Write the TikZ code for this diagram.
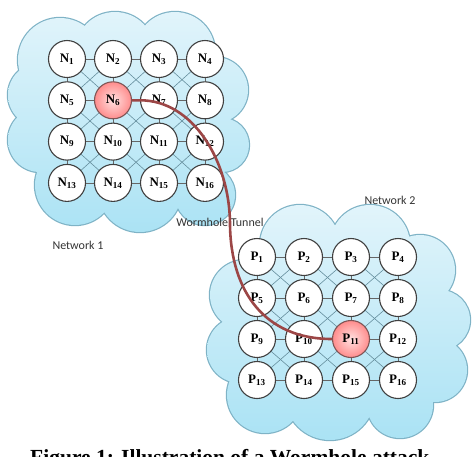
\documentclass[tikz,border=0pt]{standalone}
\usepackage{fontspec}
\setmainfont{Liberation Serif}
\newfontfamily\labelfont{Carlito}

\pgfdeclarelayer{cloudlayer}
\pgfdeclarelayer{linklayer}
\pgfsetlayers{cloudlayer,linklayer,main}

\definecolor{cloudedge}{HTML}{7FB3C6}
\definecolor{cloudtop}{HTML}{E4F5FB}
\definecolor{cloudbottom}{HTML}{A9E2F4}
\definecolor{tunnelred}{HTML}{9C4646}

\tikzset{
  host/.style={circle,draw=black!75,line width=1.1pt,fill=white,minimum size=37pt,inner sep=0pt,
    font=\fontsize{13}{13}\selectfont\bfseries},
  victim/.style={host,draw=tunnelred!60!black!80,inner color=red!12,outer color=red!45},
  link/.style={draw=black!60,line width=0.8pt},
  cross/.style={draw=cloudedge!80!black,line width=0.6pt},
  puff/.style={draw=cloudedge,line width=2.4pt},
  tunnel/.style={draw=tunnelred,line width=2.6pt},
  netname/.style={font=\labelfont\fontsize{12}{12}\selectfont,text=black!80,inner sep=1pt},
}
\def\cloudone{60/60/42,115/52/40,175/52/40,215/90/33,222/145/27,205/195/30,140/190/42,
  75/185/40,40/140/32,40/95/32,125/120/90}
\def\cloudtwo{300/245/40,370/245/40,420/270/35,440/320/30,435/370/32,400/405/33,330/395/45,
  265/395/38,240/350/33,245/295/35,335/320/95}

\begin{document}
\begin{tikzpicture}[x=1pt,y=-1pt]
\useasboundingbox (0,0) rectangle (474,456);

% clouds
\begin{pgfonlayer}{cloudlayer}
\foreach \cx/\cy/\r in \cloudone
  \draw[puff] (\cx,\cy) circle (\r pt);
\begin{scope}
\clip \foreach \cx/\cy/\r in \cloudone {(\cx,\cy) circle (\r pt)};
\shade[top color=cloudtop,bottom color=cloudbottom] (0,0) rectangle (260,240);
\end{scope}
\foreach \cx/\cy/\r in \cloudtwo
  \draw[puff] (\cx,\cy) circle (\r pt);
\begin{scope}
\clip \foreach \cx/\cy/\r in \cloudtwo {(\cx,\cy) circle (\r pt)};
\shade[top color=cloudtop,bottom color=cloudbottom] (200,195) rectangle (474,445);
\end{scope}
\end{pgfonlayer}

% the two grids
\foreach \row in {0,...,3}
  \foreach \col in {0,...,3} {
    \pgfmathtruncatemacro\k{4*\row+\col+1}
    \ifnum\k=6 \def\kind{victim}\else\def\kind{host}\fi
    \node[\kind] (N\k) at ({67+46*\col},{59+41.3*\row}) {N\textsubscript{\k}};
    \ifnum\k=11 \def\kind{victim}\else\def\kind{host}\fi
    \node[\kind] (P\k) at ({257+47*\col},{257+41*\row}) {P\textsubscript{\k}};
  }

\begin{pgfonlayer}{linklayer}
\foreach \net in {N,P}
  \foreach \a in {0,...,3}
    \foreach \b in {1,2,3} {
      \pgfmathtruncatemacro\h{4*\a+\b}
      \pgfmathtruncatemacro\v{4*(\b-1)+\a+1}
      \draw[link] (\net\h.center) -- (\net\the\numexpr\h+1\relax.center);
      \draw[link] (\net\v.center) -- (\net\the\numexpr\v+4\relax.center);
    }
\foreach \net in {N,P}
  \foreach \a in {0,1,2}
    \foreach \b in {1,2,3} {
      \pgfmathtruncatemacro\k{4*\a+\b}
      \draw[cross] (\net\k.center) -- (\net\the\numexpr\k+5\relax.center);
      \draw[cross] (\net\the\numexpr\k+1\relax.center) -- (\net\the\numexpr\k+4\relax.center);
    }
\end{pgfonlayer}

% labels
\node[netname] (net1) at (78,245) {Network 1};
\node[netname] (net2) at (390,200) {Network 2};
\node[netname] (hole) at (220,222) {Wormhole Tunnel};

% wormhole link
\draw[tunnel] (N6.east) -- ++(8,0) .. controls (192,100) and (230,160) .. (230,225)
  .. controls (231,292) and (265,339) .. (P11.west);

\node[anchor=base west,inner sep=0pt,font=\fontsize{21.5}{22}\selectfont\bfseries] (caption) at (30,464)
  {Figure 1: Illustration of a Wormhole attack};
\end{tikzpicture}
\end{document}
